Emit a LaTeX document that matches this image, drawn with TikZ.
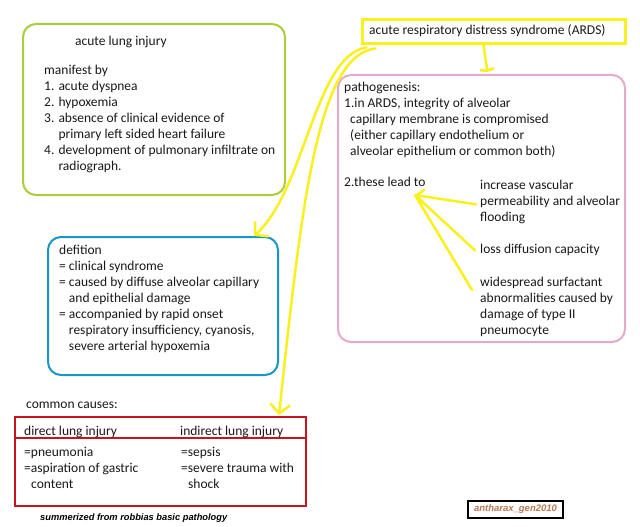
\documentclass[tikz,border=0pt]{standalone}
\usepackage{fontspec}
\setmainfont{Carlito}
\newfontfamily\signfont{Liberation Sans}
\usetikzlibrary{arrows.meta,calc}
\definecolor{ligreen}{RGB}{170,205,60}
\definecolor{pinkb}{RGB}{228,170,204}
\definecolor{blueb}{RGB}{25,150,200}
\definecolor{redb}{RGB}{200,20,30}
\definecolor{linkyel}{RGB}{250,240,30}
\definecolor{txt}{RGB}{25,25,25}
\definecolor{wmark}{RGB}{185,120,80}
\begin{document}
\begin{tikzpicture}[x=1pt,y=-1pt,
  box/.style={draw, line width=2pt, rounded corners=13pt, inner sep=0},
  txtline/.style={anchor=base west, inner sep=0, text=txt, font=\fontsize{13.5}{16}\selectfont},
  txtblock/.style={anchor=north west, inner sep=0, align=left, text=txt, font=\fontsize{13.5}{16}\selectfont},
  link/.style={draw=linkyel, line width=2.5pt, line cap=round, -{Straight Barb[length=9pt,width=20pt,line width=2.5pt]}},
  plainlink/.style={draw=linkyel, line width=2.5pt, line cap=round}]
\useasboundingbox[fill=white] (0,0) rectangle (640,527);

% boxes
\node[box, draw=ligreen, minimum width=262pt, minimum height=171pt] (ali) at (154,109.5) {};
\node[draw=linkyel, line width=3pt, inner sep=0, minimum width=263pt, minimum height=24pt] (ards) at (493.5,32) {};
\node[box, draw=pinkb, minimum width=287pt, minimum height=267pt] (patho) at (481.5,208.5) {};
\node[box, draw=blueb, minimum width=230pt, minimum height=138pt] (defn) at (163,306) {};
\node[draw=redb, line width=2pt, inner sep=0, minimum width=291pt, minimum height=89pt] (causes) at (160.5,461.5) {};
\draw[redb, line width=2pt] ($(causes.north west)+(0,22)$) -- ($(causes.north east)+(0,22)$);

% acute lung injury
\node[txtline] (alititle) at (75,46) {acute lung injury};
\node[txtblock] (alilist) at (44,64) {\rule{0pt}{10pt}manifest by\\1. acute dyspnea\\2. hypoxemia\\3. absence of clinical evidence of\\\phantom{3. }primary left sided heart failure\\4. development of pulmonary infiltrate on\\\phantom{4. }radiograph.};

% ARDS
\node[txtline] (ardstext) at (369,35) {acute respiratory distress syndrome (ARDS)};

% pathogenesis
\node[txtblock] (pathotext) at (344,81) {\rule{0pt}{10pt}pathogenesis:\\1.in ARDS, integrity of alveolar\\\hspace*{6pt}capillary membrane is compromised\\\hspace*{6pt}(either capillary endothelium or\\\hspace*{6pt}alveolar epithelium or common both)};
\node[txtline] (lead) at (344,186) {2.these lead to};
\node[txtblock] (inc) at (480,179) {\rule{0pt}{10pt}increase vascular\\permeability and alveolar\\flooding};
\node[txtline] (loss) at (480,253) {loss diffusion capacity};
\node[txtblock] (wide) at (480,276) {\rule{0pt}{10pt}widespread surfactant\\abnormalities caused by\\damage of type II\\pneumocyte};

% definition
\node[txtblock] (defntext) at (59,244) {\rule{0pt}{10pt}defition\\= clinical syndrome\\= caused by diffuse alveolar capillary\\\phantom{= }and epithelial damage\\= accompanied by rapid onset\\\phantom{= }respiratory insufficiency, cyanosis,\\\phantom{= }severe arterial hypoxemia};

% common causes
\node[txtline] (cctitle) at (26,408) {common causes:};
\node[txtline] (direct) at (24,435) {direct lung injury};
\node[txtline] (indirect) at (180,435) {indirect lung injury};
\node[txtblock] (directlist) at (24,446) {\rule{0pt}{10pt}=pneumonia\\=aspiration of gastric\\\hspace*{7pt}content};
\node[txtblock] (indirectlist) at (181,446) {\rule{0pt}{10pt}=sepsis\\=severe trauma with\\\hspace*{7pt}shock};

% signatures
\node[anchor=base west, inner sep=0, font=\signfont\bfseries\itshape\fontsize{9.3}{10}\selectfont] (source) at (40,520) {summerized from robbias basic pathology};
\node[draw, line width=2pt, minimum width=95pt, minimum height=17pt, inner sep=0, text=wmark, font=\signfont\bfseries\itshape\fontsize{9.5}{11}\selectfont] (wm) at (515.5,509.5) {antharax\_gen2010};

% connectors
\coordinate (conv) at ($(lead.base west)+(71,9)$);
\draw[link] ($(ards.south west)+(6,2)$) .. controls (315,55) and (305,190) .. ($(defn.north east)+(-25,0)$);
\draw[link] ($(ards.south west)+(15,3)$) .. controls (318,55) and (302,200) .. ($(causes.north east)+(-28,-1)$);
\draw[plainlink, -{Straight Barb[length=1.5pt,width=14pt,line width=2.5pt]}] ($(ards.south)+(-10,0)$) -- ($(patho.north)+(6,-2)$);
\draw[plainlink, -{Straight Barb[length=7pt,width=14pt,line width=2.5pt]}] ($(inc.west)+(-4,3)$) -- (conv);
\draw[plainlink] ($(loss.west)+(-5,1)$) -- (conv);
\draw[plainlink] ($(wide.north west)+(-8,14)$) -- (conv);
\end{tikzpicture}
\end{document}
